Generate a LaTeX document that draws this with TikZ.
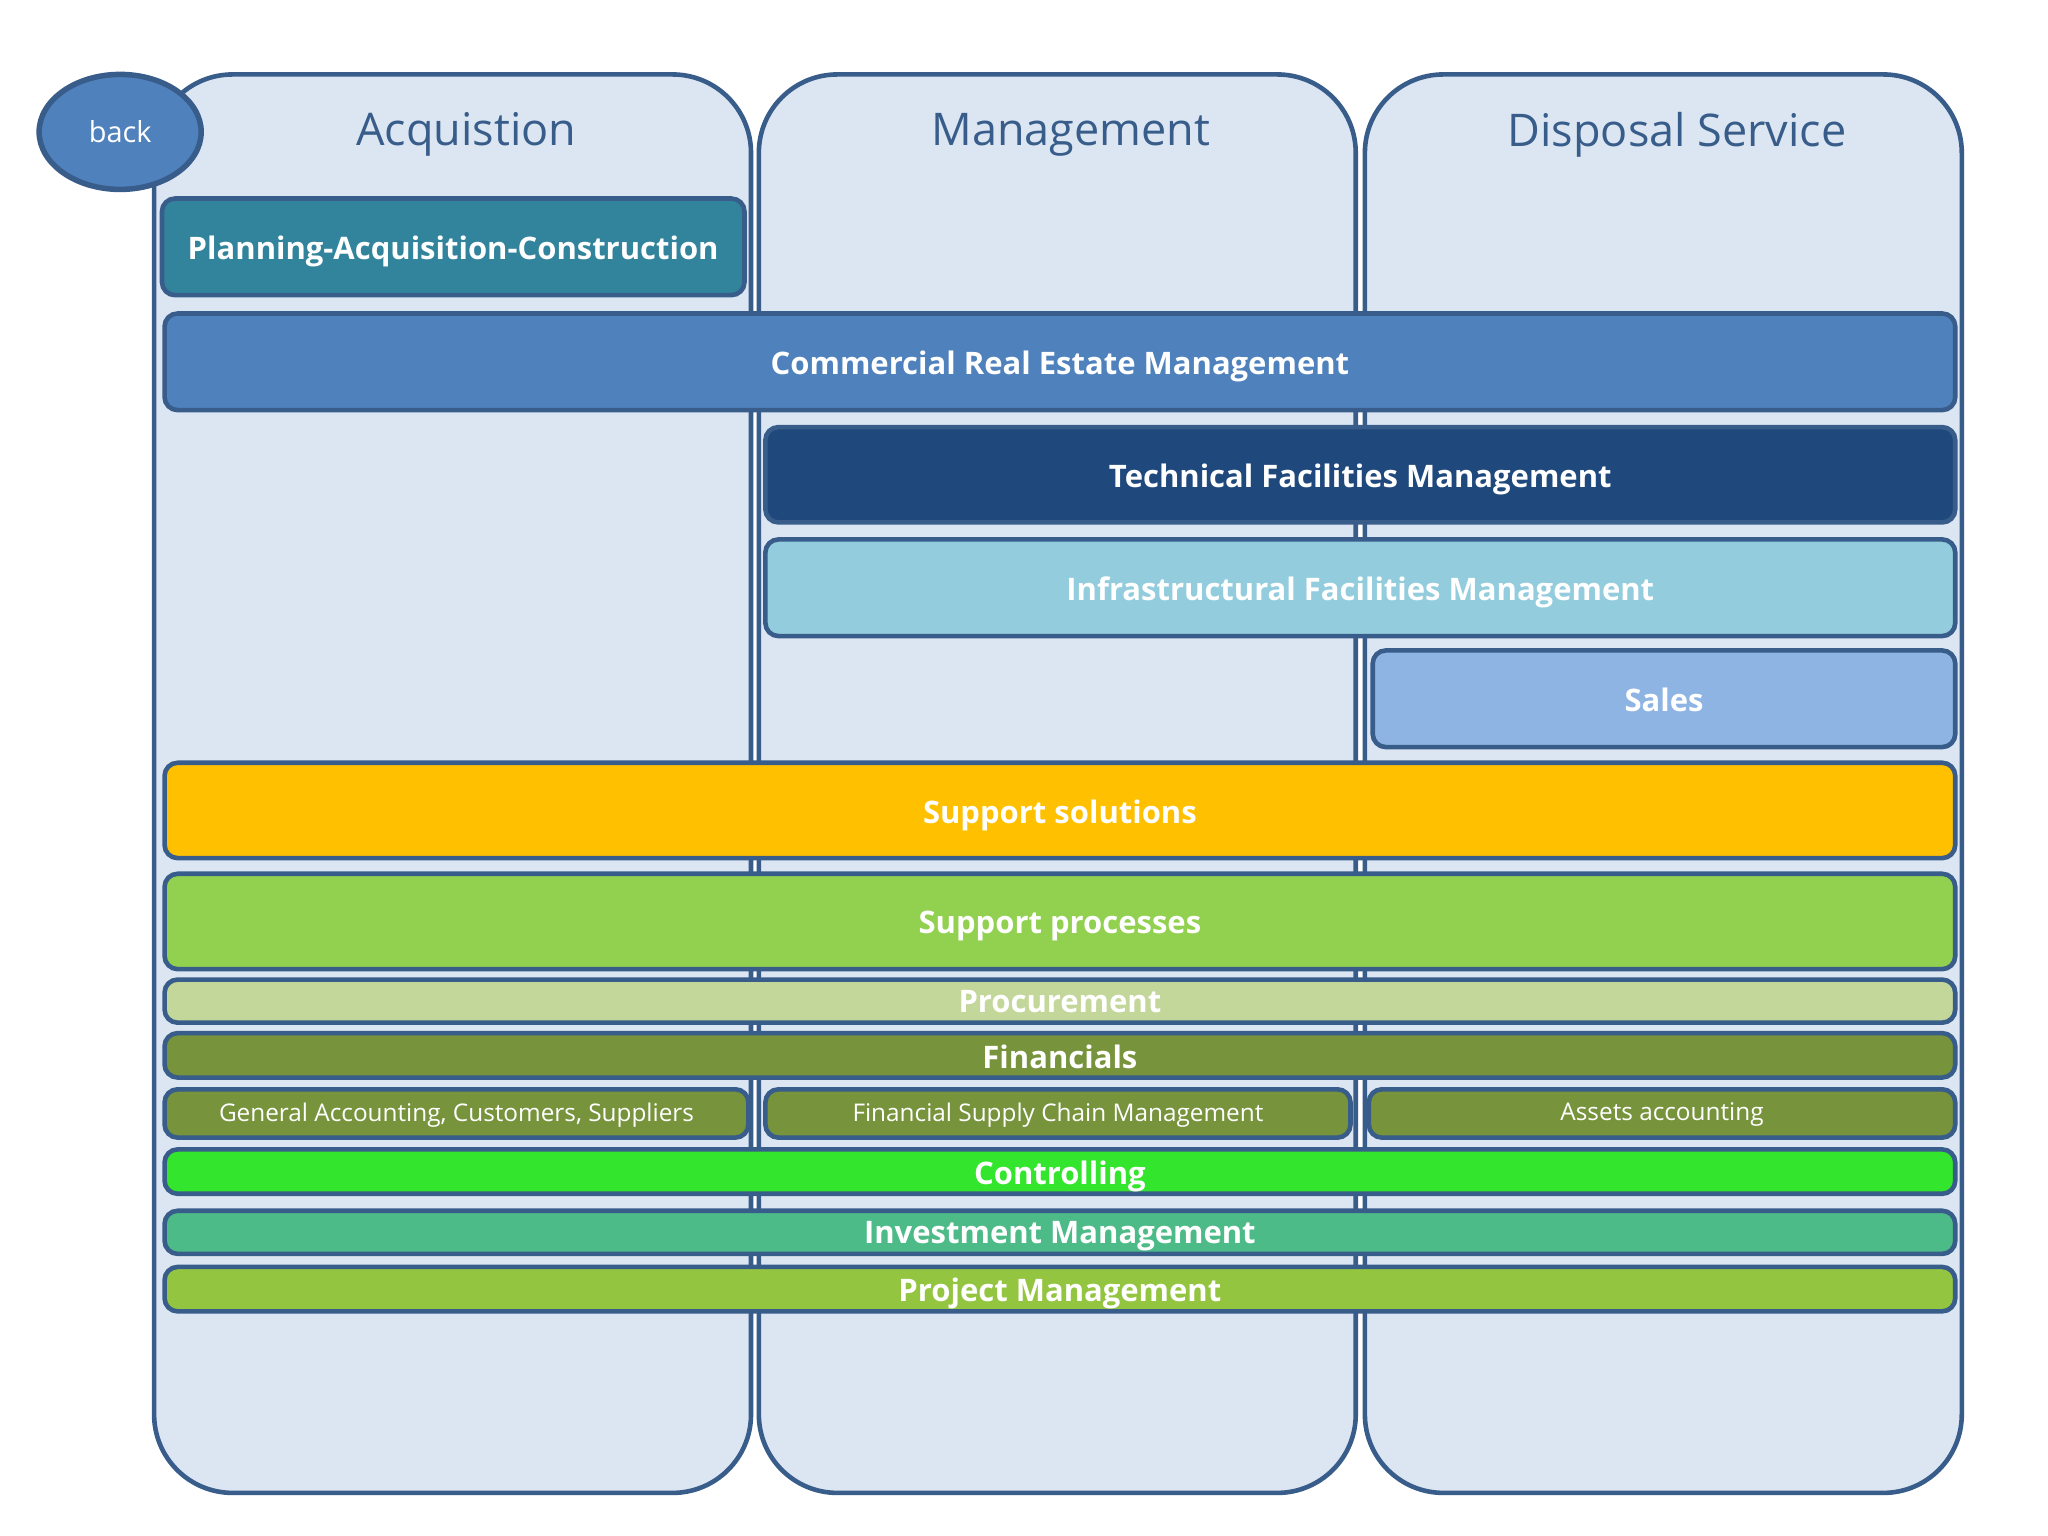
\documentclass[tikz,border=0pt]{standalone}
\usepackage{fontspec}
\setmainfont{Open Sans}
\usetikzlibrary{positioning}
\usetikzlibrary{shapes.geometric}
\definecolor{frame}{HTML}{385D8A}
\definecolor{lanefill}{HTML}{DCE6F2}
\definecolor{cPlan}{HTML}{31849B}
\definecolor{cCom}{HTML}{4F81BD}
\definecolor{cTech}{HTML}{1F497D}
\definecolor{cInfra}{HTML}{93CDDD}
\definecolor{cSales}{HTML}{8EB4E3}
\definecolor{cSol}{HTML}{FFC000}
\definecolor{cProc}{HTML}{92D050}
\definecolor{cPurch}{HTML}{C4D79B}
\definecolor{cFin}{HTML}{77933C}
\definecolor{cCtrl}{HTML}{33E52C}
\definecolor{cInv}{HTML}{4DBB87}
\definecolor{cProj}{HTML}{93C540}
\tikzset{
  lane/.style={draw=frame, line width=1pt, fill=lanefill, rounded corners=0.6cm},
  bar/.style={draw=frame, line width=1pt, rounded corners=0.1cm, text=white,
    font=\fontsize{6.75}{8}\selectfont\bfseries, inner sep=0pt},
  small/.style={bar, font=\fontsize{5.3}{6}\selectfont},
  head/.style={text=frame, font=\fontsize{9.8}{12}\selectfont}
}
% name, style, x1, x2, y1, y2, text
\newcommand{\band}[7]{%
  \node[#2, minimum width={(#4-#3)*0.01cm}, minimum height={(#6-#5)*0.01cm}]
    (#1) at ({(#3+#4)/2},{(#5+#6)/2}) {};
  \node[#2, draw=none, fill=none, below=-0.1cm of #1.center] (#1-t) {#7};}
\begin{document}
\begin{tikzpicture}[x=0.01cm, y=-0.01cm]
\useasboundingbox[fill=white] (0,0) rectangle (1568,1176);
% lanes
\draw[lane] (118,57) rectangle (575,1143);
\draw[lane] (581,57) rectangle (1038,1143);
\draw[lane] (1045,57) rectangle (1502,1143);
\node[head] (acq) at (357,103) {Acquistion};
\node[head] (man) at (820,103) {Management};
\node[head] (dis) at (1284,103) {Disposal Service};
\node[draw=frame, line width=1.2pt, fill=cCom, ellipse, minimum width=1.24cm,
  minimum height=0.88cm, text=white, font=\fontsize{6.3}{8}\selectfont] (back) at (92,101) {back};
% bars
\band{plan}{bar, fill=cPlan}{124}{570}{152}{226}{Planning-Acquisition-Construction}
\band{crem}{bar, fill=cCom}{126}{1497}{240}{314}{Commercial Real Estate Management}
\band{tfm}{bar, fill=cTech}{586}{1497}{327}{400}{Technical Facilities Management}
\band{ifm}{bar, fill=cInfra}{586}{1497}{413}{487}{Infrastructural Facilities Management}
\band{sales}{bar, fill=cSales}{1051}{1497}{498}{572}{Sales}
\band{sol}{bar, fill=cSol}{126}{1497}{584}{657}{Support solutions}
\band{proc}{bar, fill=cProc}{126}{1497}{669}{742}{Support processes}
\band{purch}{bar, fill=cPurch}{126}{1497}{750}{783}{Procurement}
\band{fin}{bar, fill=cFin}{126}{1497}{791}{825}{Financials}
\band{gacc}{small, fill=cFin}{126}{573}{834}{871}{General Accounting, Customers, Suppliers}
\band{fscm}{small, fill=cFin}{586}{1034}{834}{871}{Financial Supply Chain Management}
\band{aacc}{small, fill=cFin}{1048}{1497}{834}{871}{Assets accounting}
\band{ctrl}{bar, fill=cCtrl}{126}{1497}{880}{914}{Controlling}
\band{inv}{bar, fill=cInv}{126}{1497}{927}{960}{Investment Management}
\band{proj}{bar, fill=cProj}{126}{1497}{970}{1004}{Project Management}
\end{tikzpicture}
\end{document}
